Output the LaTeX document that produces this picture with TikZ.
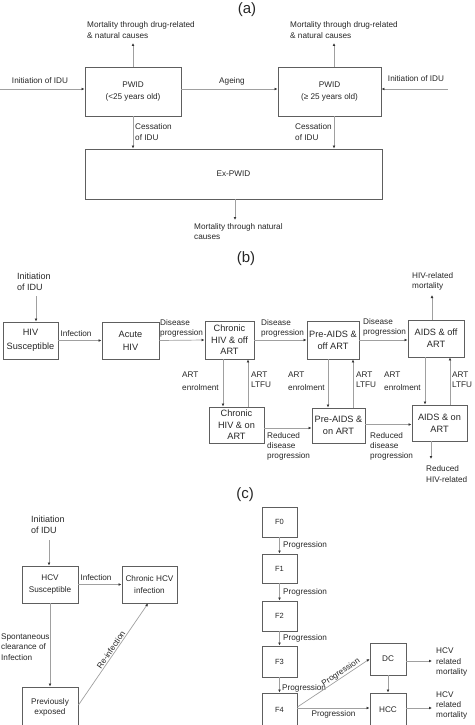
\documentclass[tikz,border=0pt]{standalone}
\usepackage{fontspec}
\setmainfont{Liberation Sans}
\usetikzlibrary{arrows.meta,calc}
\definecolor{boxc}{HTML}{5E5E5E}
\definecolor{linec}{HTML}{A0A0A0}
\definecolor{tipc}{HTML}{333333}
\definecolor{txtc}{HTML}{262626}
\newcommand\fsml{\fontsize{8.2}{10.2}\selectfont}
\newcommand\fmid{\fontsize{9}{11}\selectfont}
\newcommand\fbig{\fontsize{9.2}{11.6}\selectfont}
\newcommand\ftiny{\fontsize{7.5}{9}\selectfont}
\begin{document}
\begin{tikzpicture}[x=1pt,y=-1pt,
  every node/.style={text=txtc},
  box/.style={draw=boxc, line width=0.9pt, align=center, inner sep=0pt, font=\fsml},
  bx/.style 2 args={box, minimum width=#1, minimum height=#2},
  bbx/.style 2 args={box, font=\fbig, minimum width=#1, minimum height=#2},
  lab/.style={font=\fsml, align=left, inner sep=0pt},
  arr/.style={draw=linec, line width=0.7pt, -{Latex[length=3pt,width=2.8pt,color=tipc]}},
  ttl/.style={font=\fontsize{15}{18}\selectfont, inner sep=0pt}]
\useasboundingbox (0,0) rectangle (474,725);
\clip (0,0) rectangle (474,725);

% ---------------- (a)
\node[ttl] (ta) at (247,10) {(a)};
\node[bx={96pt}{49pt}] (p1) at (133,91.5) {PWID\\[2.5pt](<25 years old)};
\node[bx={103pt}{49pt}] (p2) at (329.5,91.5) {PWID\\[2.5pt](≥ 25 years old)};
\node[bx={297pt}{50pt}] (ex) at (233.5,174) {Ex-PWID};

\node[lab,anchor=west] (m1) at (87,30) {Mortality through drug-related\\\& natural causes};
\node[lab,anchor=west] (m2) at (290,30) {Mortality through drug-related\\\& natural causes};
\coordinate (m1e) at (133,43);
\coordinate (m2e) at (334,43);
\draw[arr] (p1.north) -- (m1e);
\draw[arr] (p2.north -| m2e) -- (m2e);

\node[lab] (i1) at (40,81) {Initiation of IDU};
\coordinate (i1s) at (0,89);
\draw[arr] (i1s) -- (i1s -| p1.west);
\node[lab] (ag) at (232,81) {Ageing};
\draw[arr] (i1s -| p1.east) -- (i1s -| p2.west);
\node[lab] (i2) at (416,79) {Initiation of IDU};
\coordinate (i2s) at (448,89);
\draw[arr] (i2s) -- (i2s -| p2.east);

\node[lab,anchor=west] (c1) at (135,132) {Cessation\\of IDU};
\node[lab,anchor=west] (c2) at (295,132) {Cessation\\of IDU};
\draw[arr] (p1.south) -- (p1.south |- ex.north);
\draw[arr] (p2.south -| m2e) -- (ex.north -| m2e);

\coordinate (mxe) at (235,220);
\draw[arr] (ex.south -| mxe) -- (mxe);
\node[lab,anchor=west] (mx) at (194,231.5) {Mortality through natural\\causes};

% ---------------- (b)
\node[ttl] (tb) at (246,259) {(b)};
\node[lab,anchor=west,font=\fmid] (i3) at (17,281.5) {Initiation\\of IDU};
\node[bbx={55pt}{37pt}] (hs) at (30.5,340.5) {HIV\\[2.5pt]Susceptible};
\node[bbx={57pt}{37pt}] (ah) at (130.5,340.5) {Acute\\[1.5pt]HIV};
\node[bbx={49pt}{38pt}] (co) at (229.5,340) {Chronic\\HIV \& off\\ART};
\node[bbx={52pt}{38pt}] (pa) at (333,340) {Pre-AIDS \&\\[0.5pt]off ART};
\node[bbx={56pt}{37pt}] (ao) at (436,338.5) {AIDS \& off\\[0.5pt]ART};
\node[bbx={55pt}{36pt}] (cn) at (236.5,425) {Chronic\\HIV \& on\\ART};
\node[bbx={53pt}{35pt}] (pn) at (338.5,425.5) {Pre-AIDS \&\\on ART};
\node[bbx={55pt}{36pt}] (an) at (439.5,423) {AIDS \& on\\[0.5pt]ART};

\coordinate (i3e) at (36,296);
\draw[arr] (i3e) -- (i3e |- hs.north);

\draw[arr] (hs.east) -- (ah.west);
\node[lab] (inf) at (76,334) {Infection};
\draw[arr] (ah.east) -- (co.west);
\node[lab,anchor=west] (dp1) at (160,328) {Disease\\progression};
\draw[arr] (co.east) -- (pa.west);
\node[lab,anchor=west] (dp2) at (261,328) {Disease\\progression};
\draw[arr] (pa.east) -- (pa.east -| ao.west);
\node[lab,anchor=west] (dp3) at (363,327) {Disease\\progression};

\coordinate (hme) at (432,295);
\draw[arr] (ao.north -| hme) -- (hme);
\node[lab,anchor=west] (hm) at (412,281) {HIV-related\\mortality};

\coordinate (e1) at (223,0);
\coordinate (l1) at (248,0);
\coordinate (e2) at (328,0);
\coordinate (l2) at (353,0);
\coordinate (e3) at (425,0);
\coordinate (l3) at (450,0);
\draw[arr] (co.south -| e1) -- (cn.north -| e1);
\draw[arr] (cn.north -| l1) -- (co.south -| l1);
\draw[arr] (pa.south -| e2) -- (pn.north -| e2);
\draw[arr] (pn.north -| l2) -- (pa.south -| l2);
\draw[arr] (ao.south -| e3) -- (an.north -| e3);
\draw[arr] (an.north -| l3) -- (ao.south -| l3);
\node[lab,anchor=west] (en1) at (182,381.5) {ART\\[2.5pt]enrolment};
\node[lab,anchor=west] (lt1) at (251,380) {ART\\LTFU};
\node[lab,anchor=west] (en2) at (288,381.5) {ART\\[2.5pt]enrolment};
\node[lab,anchor=west] (lt2) at (356,380) {ART\\LTFU};
\node[lab,anchor=west] (en3) at (384,381) {ART\\[2.5pt]enrolment};
\node[lab,anchor=west] (lt3) at (452,379.5) {ART\\LTFU};

\coordinate (r1) at (0,428);
\coordinate (r2) at (0,424.5);
\draw[arr] (r1 -| cn.east) -- (r1 -| pn.west);
\draw[arr] (r2 -| pn.east) -- (r2 -| an.west);
\node[lab,anchor=west] (rd1) at (267,446.5) {Reduced\\disease\\progression};
\node[lab,anchor=west] (rd2) at (370,446.5) {Reduced\\disease\\progression};

\coordinate (rhe) at (431,459);
\draw[arr] (an.south -| rhe) -- (rhe);
\node[lab,anchor=west] (rh) at (426,474) {Reduced\\HIV-related};

% ---------------- (c)
\node[ttl] (tc) at (245,495) {(c)};
\node[lab,anchor=west,font=\fmid] (i4) at (31,524.5) {Initiation\\of IDU};
\node[bx={56pt}{37pt}] (hcs) at (50,584.5) {HCV\\[1.5pt]Susceptible};
\node[bx={55pt}{37pt}] (chc) at (149.5,584.5) {Chronic HCV\\[1.5pt]infection};
\node[bx={56pt}{40pt}] (pe) at (50,707) {Previously\\exposed};

\coordinate (i4e) at (49,540);
\draw[arr] (i4e) -- (i4e |- hcs.north);
\draw[arr] (hcs.east) -- (chc.west);
\node[lab] (inf2) at (96,578) {Infection};
\draw[arr] (hcs.south) -- (pe.north);
\node[lab,anchor=west] (sc) at (1,647) {Spontaneous\\clearance of\\Infection};
\coordinate (rie) at (148,0);
\draw[arr] ([yshift=2pt]pe.east) -- (chc.south -| rie)
  node[pos=0.52, sloped, above=1pt, lab] {Re-infection};

\node[bx={35pt}{30pt},font=\ftiny] (f0) at (279.5,522) {F0};
\node[bx={35pt}{29pt},font=\ftiny] (f1) at (279.5,568.5) {F1};
\node[bx={35pt}{30pt},font=\ftiny] (f2) at (279.5,616) {F2};
\node[bx={35pt}{31pt},font=\ftiny] (f3) at (279.5,661.5) {F3};
\node[bx={35pt}{34pt},font=\ftiny] (f4) at (279.5,710) {F4};
\draw[arr] (f0.south) -- (f1.north);
\draw[arr] (f1.south) -- (f2.north);
\draw[arr] (f2.south) -- (f3.north);
\draw[arr] (f3.south) -- (f4.north);
\node[lab,anchor=west] (pg1) at (283,545) {Progression};
\node[lab,anchor=west] (pg2) at (283,592) {Progression};
\node[lab,anchor=west] (pg3) at (283,638) {Progression};
\node[lab,anchor=west] (pg4) at (282,688) {Progression};

\node[bx={36pt}{32pt}] (dc) at (388,659) {DC};
\node[bx={36pt}{34pt}] (hcc) at (388,710) {HCC};
\draw[arr] ([yshift=3pt]f4.east) -- (dc.west)
  node[pos=0.64, sloped, above=0.5pt, lab] {Progression};
\draw[arr] ([yshift=2pt]f4.east) -- ([yshift=2pt]hcc.west)
  node[midway, below=2pt, lab] {Progression};
\draw[arr] (dc.south) -- (hcc.north);

\coordinate (dme) at (432,661);
\draw[arr] (dme -| dc.east) -- (dme);
\node[lab,anchor=west] (dm) at (436,662) {HCV\\related\\mortality};
\coordinate (hme2) at (432,708);
\draw[arr] (hme2 -| hcc.east) -- (hme2);
\node[lab,anchor=west] (hm2) at (436,705.5) {HCV\\related\\mortality};
\end{tikzpicture}
\end{document}
